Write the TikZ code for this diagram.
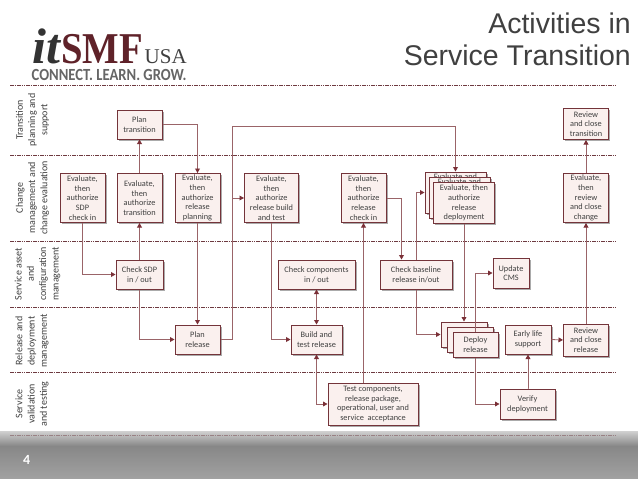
\documentclass[tikz,border=0pt]{standalone}
\usepackage{fontspec}
\setmainfont{Carlito}
\newfontfamily\titlefont{Liberation Sans}
\newfontfamily\logofont{Liberation Serif}
\usetikzlibrary{calc,shadows,arrows.meta}
\definecolor{boxline}{HTML}{74343A}
\definecolor{boxfill}{HTML}{FAF0EE}
\definecolor{conn}{HTML}{9A6468}
\definecolor{tipc}{HTML}{7A2F36}
\definecolor{laneline}{HTML}{6E3A40}
\definecolor{inktext}{HTML}{404040}
\definecolor{logored}{HTML}{5F2229}
\tikzset{
  x=1pt,y=-1pt,
  flowbox/.style={draw=boxline,line width=1pt,fill=boxfill,inner sep=0pt,align=center,text=inktext,
    font=\fontsize{8.3}{9.7}\selectfont,
    execute at begin node={\rule{0pt}{8.8pt}},
    general shadow={fill=black!55,opacity=0.6,shadow xshift=1.6pt,shadow yshift=-1.6pt}},
  sz/.style n args={2}{minimum width=#1pt,minimum height=#2pt},
  flow/.style={draw=conn,line width=0.8pt,-{Triangle[length=4.5pt,width=4.8pt,fill=tipc,color=tipc]}},
  flowtwo/.style={draw=conn,line width=0.8pt,{Triangle[length=4.5pt,width=4.8pt,fill=tipc,color=tipc]}-{Triangle[length=4.5pt,width=4.8pt,fill=tipc,color=tipc]}},
  laneline/.style={draw=laneline,line width=0.55pt,dash pattern=on 1.6pt off 0.7pt},
  lanetext/.style={rotate=90,align=center,text=inktext,font=\fontsize{10}{12.3}\selectfont},
  titletext/.style={anchor=base east,inner sep=0pt,text=inktext,font=\titlefont\fontsize{28.5}{30}\selectfont},
  hiddentext/.style={text=inktext,inner sep=0pt,font=\fontsize{8.3}{9.7}\selectfont},
}
\begin{document}
\begin{tikzpicture}
\useasboundingbox (0,0) rectangle (638,479);
\fill[white] (0,0) rectangle (638,479);
% footer band
\shade[top color=black!18,bottom color=black!47] (0,431) rectangle (638,446);
\shade[top color=black!47,bottom color=black!37] (0,446) rectangle (638,478);

% title
\node[titletext] (title1) at (631,34) {Activities in};
\node[titletext] (title2) at (631,65) {Service Transition};

% logo
\node[anchor=base west,inner sep=0pt,text=black!80,font=\logofont\bfseries\itshape\fontsize{50}{50}\selectfont] (logoit) at (32,63.5) {it};
\node[anchor=base west,inner sep=0pt,text=logored,font=\logofont\bfseries\fontsize{44}{44}\selectfont,xscale=0.88] (logosmf) at (61,63.5) {SMF};
\node[anchor=base west,inner sep=0pt,text=black!75,font=\logofont\fontsize{21}{21}\selectfont] (logousa) at (144.5,63.5) {USA};
\node[anchor=base west,inner sep=0pt,text=black!60,xscale=0.86,font=\bfseries\fontsize{17}{17}\selectfont] (logotag) at (31.5,80) {CONNECT. LEARN. GROW.};

% lane separators
\foreach \y in {85,155,241,307,372}{
  \draw[laneline] (10,\y) -- (616,\y);
}
\draw[laneline,draw opacity=0.45] (10,435.5) -- (616,435.5);

% lane labels
\node[lanetext] (lane1) at (32.5,120) {Transition\\planning and\\support};
\node[lanetext] (lane2) at (32.5,198) {Change\\management and\\change evaluation};
\node[lanetext] (lane3) at (37.5,274) {Service asset\\and\\configuration\\management};
\node[lanetext] (lane4) at (32,341) {Release and\\deployment\\management};
\node[lanetext] (lane5) at (32,404) {Service\\validation\\and testing};

% boxes
\node[flowbox,sz={45}{29}] (plantrans) at (139.5,124.5) {Plan\\transition};
\node[flowbox,sz={45}{31}] (reviewtrans) at (586,124) {Review\\and close\\transition};

\node[flowbox,sz={45}{49}] (evalsdp) at (82.5,198) {Evaluate,\\then\\authorize\\SDP\\check in};
\node[flowbox,sz={45}{49}] (evaltrans) at (139.5,198) {Evaluate,\\then\\authorize\\transition};
\node[flowbox,sz={45}{49}] (evalplan) at (197.5,198) {Evaluate,\\then\\authorize\\release\\planning};
\node[flowbox,sz={54}{49}] (evalbuild) at (271.5,198) {Evaluate,\\then\\authorize\\release build\\and test};
\node[flowbox,sz={45}{49}] (evalcheck) at (363.5,198) {Evaluate,\\then\\authorize\\release\\check in};
\node[flowbox,sz={45}{49}] (evalchange) at (586,198) {Evaluate,\\then\\review\\and close\\change};

\node[flowbox,sz={61}{41}] (stackA) at (455.5,192.5) {};
\node[hiddentext] (stackAtext) at (455.5,177) {Evaluate and};
\node[flowbox,sz={61}{41}] (stackB) at (459.5,197.5) {};
\node[hiddentext] (stackBtext) at (459.5,182) {Evaluate and};
\node[flowbox,sz={61}{41}] (stackC) at (464,203) {Evaluate, then\\authorize\\release\\deployment};

\node[flowbox,sz={47}{29}] (checksdp) at (139.5,274.5) {Check SDP\\in / out};
\node[flowbox,sz={77}{29}] (checkcomp) at (316.5,274.5) {Check components\\in / out};
\node[flowbox,sz={72}{29}] (checkbase) at (416,274.5) {Check baseline\\release in/out};
\node[flowbox,sz={36}{30}] (updatecms) at (511,273) {Update\\CMS};

\node[flowbox,sz={45}{29}] (planrel) at (197.5,339.5) {Plan\\release};
\node[flowbox,sz={51}{29}] (buildrel) at (316.5,339.5) {Build and\\test release};
\node[flowbox,sz={46}{25}] (deployA) at (464,334.5) {};
\node[flowbox,sz={46}{25}] (deployB) at (470,339.5) {};
\node[flowbox,sz={45}{25}] (deployC) at (475.5,344.5) {Deploy\\release};
\node[flowbox,sz={46}{29}] (earlylife) at (528,339.5) {Early life\\support};
\node[flowbox,sz={45}{32}] (reviewrel) at (586,340) {Review\\and close\\release};

\node[flowbox,sz={90}{42}] (testcomp) at (373,404) {Test components,\\release package,\\operational, user and\\service\ \ acceptance};
\node[flowbox,sz={55}{30}] (verify) at (527.5,404) {Verify\\deployment};

% connector bends and junctions
\coordinate (sdpdown) at (evalsdp.south |- checksdp.west);
\coordinate (checkdown) at (checksdp.south |- planrel.west);
\coordinate (relright) at (232,339.5);
\coordinate (reltop) at (232,126.5);
\coordinate (stacktop) at (stackA.north |- reltop);
\coordinate (relbranch) at (relright |- evalbuild.west);
\coordinate (buildbend) at (evalbuild.south |- buildrel.west);
\coordinate (testbend) at (buildrel.south |- testcomp.west);
\coordinate (checkout) at (401.5,198);
\coordinate (basetop) at (checkbase.north |- stackA.west);
\coordinate (basebend) at (checkbase.south |- deployA.west);
\coordinate (deployup) at (deployC.north |- updatecms.west);
\coordinate (deploydown) at (deployC.south |- verify.west);

% connectors
\draw[flow] (evalsdp.south) -- (sdpdown) -- (checksdp.west);
\draw[flow] (checksdp.north) -- (evaltrans.south);
\draw[flow] (evaltrans.north) -- (plantrans.south);
\draw[flow] (plantrans.east) -| (evalplan.north);
\draw[flow] (evalplan.south) -- (planrel.north);
\draw[flow] (checksdp.south) -- (checkdown) -- (planrel.west);
\draw[flow] (planrel.east) -- (relright) -- (reltop) -- (stacktop) -- (stackA.north);
\draw[flow] (relbranch) -- (evalbuild.west);
\draw[flow] (evalbuild.south) -- (buildbend) -- (buildrel.west);
\draw[flowtwo] (checkcomp.south) -- (buildrel.north);
\draw[flowtwo] (buildrel.south) -- (testbend) -- (testcomp.west);
\draw[flow] (testcomp.north -| evalcheck.south) -- (evalcheck.south);
\draw[flow] (evalcheck.east) -- (checkout) -- (checkout |- checkbase.north);
\draw[flow] (checkbase.north) -- (basetop) -- (stackA.west);
\draw[flow] (checkbase.south) -- (basebend) -- (deployA.west);
\draw[flow] (stackC.south -| deployA.north) -- (deployA.north);
\draw[flow] (deployC.north) -- (deployup) -- (updatecms.west);
\draw[flow] (deployC.south) -- (deploydown) -- (verify.west);
\draw[flow] (verify.north) -- (verify.north -| earlylife.south) -- (earlylife.south);
\draw[flow] (earlylife.east) -- (reviewrel.west);
\draw[flow] (reviewrel.north) -- (evalchange.south);
\draw[flow] (evalchange.north) -- (reviewtrans.south);

% page number
\node[anchor=base west,inner sep=0pt,text=white,font=\bfseries\fontsize{14}{14}\selectfont] (pagenum) at (23,464) {4};
\end{tikzpicture}
\end{document}
